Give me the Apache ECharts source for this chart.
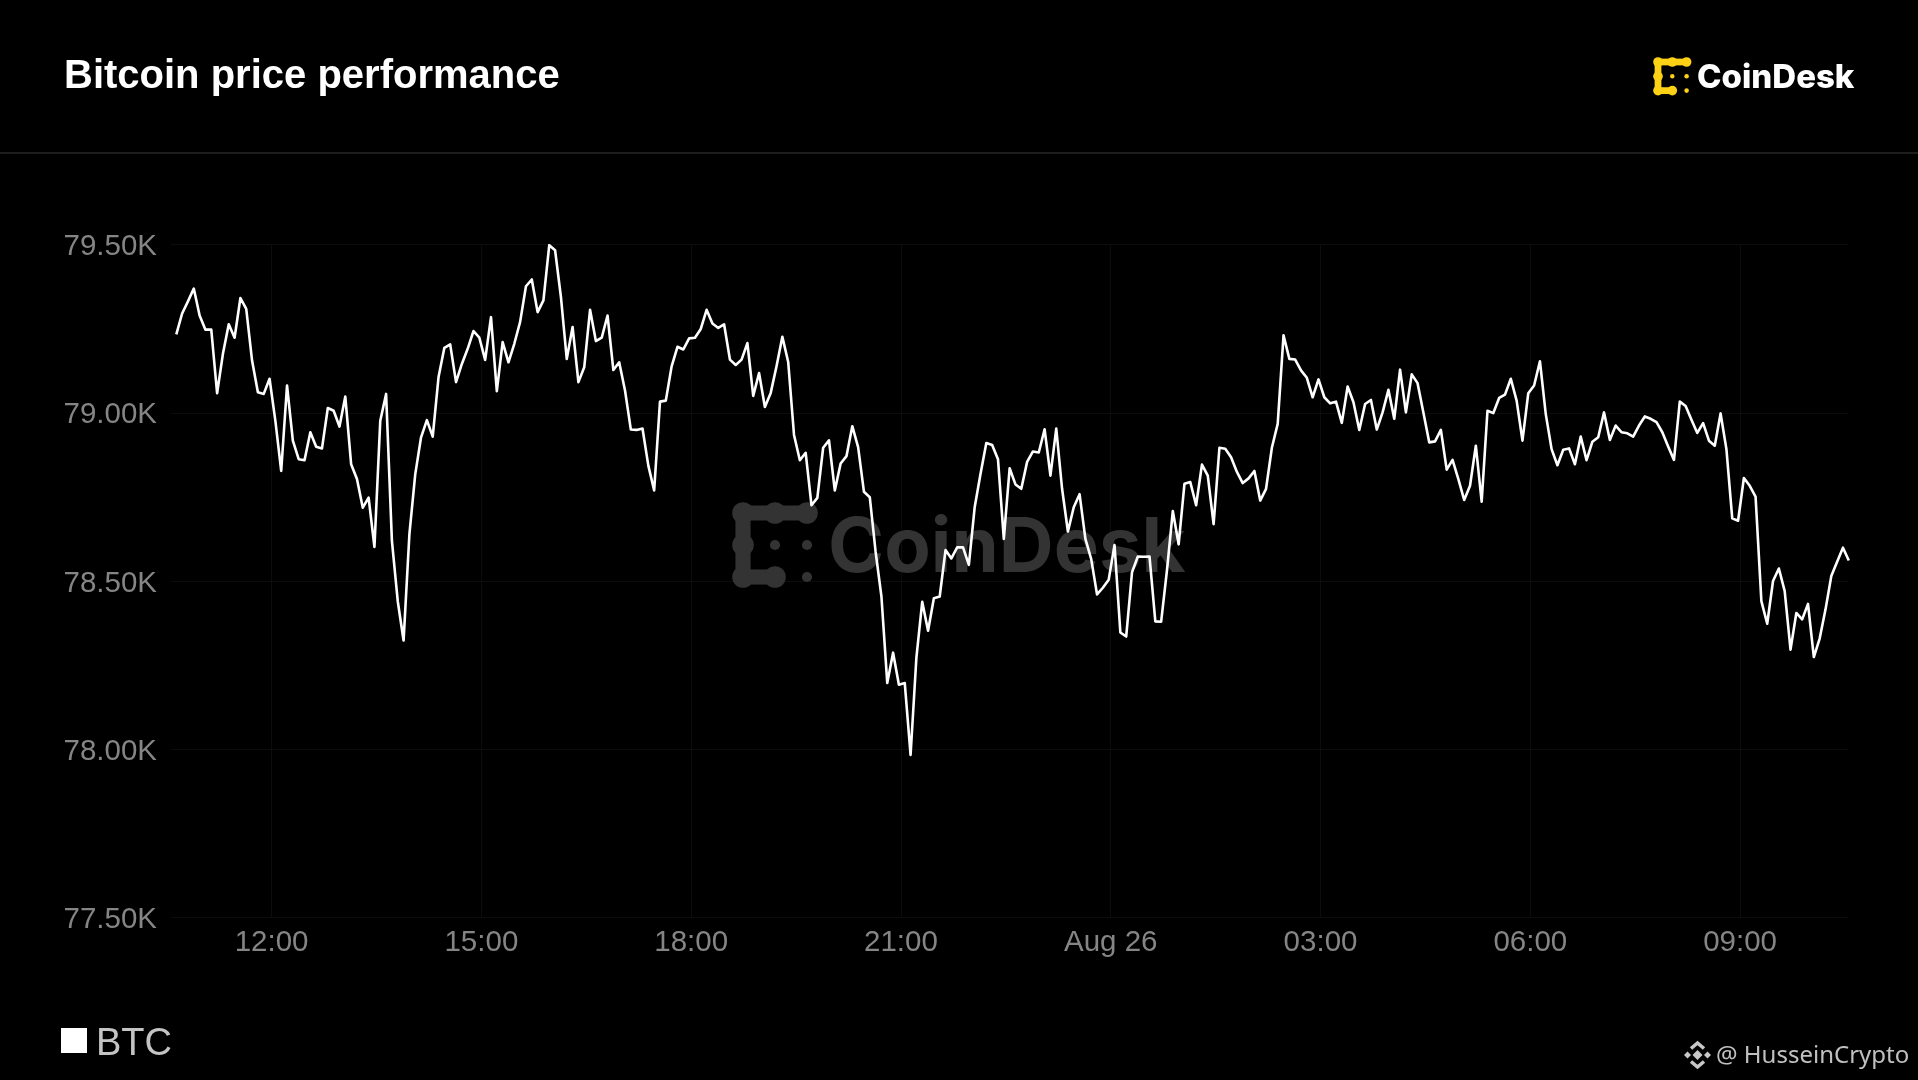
<!DOCTYPE html>
<html><head><meta charset="utf-8">
<style>html,body{margin:0;padding:0;background:#000}#c{width:1918px;height:1080px}</style>
<script src="https://cdn.jsdelivr.net/npm/echarts@6/dist/echarts.min.js"></script>
</head><body><div id="c"></div>
<script>
const startMinute = 638.25;
const stepMinutes = 5;
const seriesName = 'BTC';
const btcPrice = [
79233,79295,79331,79369,79289,79247,79247,79058,79175,79263,79223,79341,79309,79155,79061,79056,79101,78976,78827,79081,
78917,78862,78859,78942,78899,78894,79014,79006,78959,79048,78847,78803,78718,78748,78601,78976,79056,78619,78440,78323,
78639,78817,78927,78978,78929,79106,79193,79203,79091,79145,79190,79243,79223,79157,79284,79064,79210,79150,79205,79270,
79376,79396,79299,79334,79498,79483,79344,79160,79255,79091,79135,79306,79213,79223,79289,79127,79150,79066,78950,78949,
78953,78843,78769,79033,79036,79138,79196,79188,79221,79223,79249,79306,79265,79252,79263,79158,79142,79158,79207,79050,
79118,79017,79059,79138,79226,79151,78934,78859,78881,78725,78747,78896,78918,78769,78849,78871,78960,78898,78765,78749,
78587,78454,78197,78287,78192,78197,77983,78272,78438,78352,78449,78454,78592,78567,78600,78600,78548,78719,78818,78910,
78904,78862,78625,78835,78787,78774,78854,78885,78882,78951,78813,78953,78774,78647,78719,78758,78625,78565,78460,78480,
78504,78607,78347,78335,78526,78573,78572,78573,78380,78379,78532,78708,78609,78789,78794,78725,78846,78813,78669,78896,
78893,78868,78824,78791,78805,78827,78739,78774,78896,78967,79230,79160,79158,79126,79104,79046,79099,79046,79028,79033,
78970,79078,79031,78949,79026,79038,78950,79001,79068,78982,79128,79001,79114,79088,79001,78912,78915,78949,78831,78860,
78803,78741,78783,78902,78736,79006,78999,79044,79054,79101,79036,78917,79058,79081,79153,78996,78892,78844,78890,78894,
78847,78929,78859,78914,78927,79001,78919,78962,78942,78939,78929,78962,78989,78982,78972,78942,78900,78860,79033,79020,
78979,78940,78969,78917,78902,78998,78892,78686,78679,78806,78783,78751,78440,78373,78500,78537,78470,78296,78405,78386,
78432,78274,78329,78415,78515,78557,78599,78561];
const tickMinutes = [720,900,1080,1260,1440,1620,1800,1980];
const tickLabels = ['12:00','15:00','18:00','21:00','Aug 26','03:00','06:00','09:00'];
const yMin = 77500, yMax = 79500, yStep = 500;
const fontUI = '"Liberation Sans", Inter, sans-serif';
const fontLogo = 'Inter, "Liberation Sans", sans-serif';
const wmColor = '#333333';

function logo(ox, oy, k, color, z) {
  const beads = [[0,0],[1,0],[2,0],[0,1],[0,2],[1,2]];
  const links = [[[0,0],[2,0]],[[0,0],[0,2]],[[0,2],[1,2]]];
  const dots = [[1,1],[2,1],[2,2]];
  const g = 32 * k, r = 10.8 * k, out = [];
  links.forEach(l => out.push({type:'line', z, shape:{x1:ox+l[0][0]*g,y1:oy+l[0][1]*g,x2:ox+l[1][0]*g,y2:oy+l[1][1]*g}, style:{stroke:color,lineWidth:r*1.4}}));
  beads.forEach(b => out.push({type:'circle', z, shape:{cx:ox+b[0]*g,cy:oy+b[1]*g,r}, style:{fill:color}}));
  dots.forEach(d => out.push({type:'circle', z, shape:{cx:ox+d[0]*g,cy:oy+d[1]*g,r:r*0.47}, style:{fill:color}}));
  return out;
}
const bc = '#c8c8c8', bx = 1697.5, by = 1055;
const binance = [
  {type:'polygon', z:5, shape:{points:[[bx,by-5],[bx+5,by],[bx,by+5],[bx-5,by]]}, style:{fill:bc}},
  {type:'polygon', z:5, shape:{points:[[bx-13.5,by],[bx-10,by-3.5],[bx-6.5,by],[bx-10,by+3.5]]}, style:{fill:bc}},
  {type:'polygon', z:5, shape:{points:[[bx+13.5,by],[bx+10,by-3.5],[bx+6.5,by],[bx+10,by+3.5]]}, style:{fill:bc}},
  {type:'polyline', z:5, shape:{points:[[bx-6.5,by-6.5],[bx,by-12],[bx+6.5,by-6.5]]}, style:{stroke:bc,fill:null,lineWidth:3.6}},
  {type:'polyline', z:5, shape:{points:[[bx-6.5,by+6.5],[bx,by+12],[bx+6.5,by+6.5]]}, style:{stroke:bc,fill:null,lineWidth:3.6}}
];

const chart = echarts.init(document.getElementById('c'), null, {width:1918, height:1080});
chart.setOption({
  backgroundColor:'#000',
  animation:false,
  title:{text:'Bitcoin price performance', left:64, top:57, padding:0, textStyle:{color:'#fff', fontFamily:fontUI, fontWeight:700, fontSize:40}},
  legend:{data:[{name:seriesName, icon:'rect', itemStyle:{color:'#fff'}}], left:61, top:1026, padding:0, itemWidth:26, itemHeight:25, itemGap:10, formatter:'{a|{name}}',
    textStyle:{color:'#c4c4c4', fontFamily:fontUI, fontSize:38, rich:{a:{color:'#c4c4c4', fontFamily:fontUI, fontSize:38, padding:[9,0,0,4]}}}, selectedMode:false},
  grid:{left:171, right:69.5, top:244.5, bottom:162.5},
  xAxis:{type:'value', min:633.7, max:2073, axisLine:{show:false},
    axisTick:{show:false, customValues:tickMinutes},
    axisLabel:{customValues:tickMinutes, formatter:v=>tickLabels[tickMinutes.indexOf(v)], color:'#858585', fontFamily:fontUI, fontSize:29.5, margin:10},
    splitLine:{show:true, lineStyle:{color:'#0c0c0c', width:1}}},
  yAxis:{type:'value', min:yMin, max:yMax, interval:yStep, axisLine:{show:false}, axisTick:{show:false},
    axisLabel:{formatter:v=>'{a|'+(v/1000).toFixed(2)+'K}', margin:14,
      rich:{a:{color:'#858585', fontFamily:fontUI, fontSize:29.5, padding:[5,0,0,0]}}},
    splitLine:{show:true, lineStyle:{color:'#0c0c0c', width:1}}},
  series:[{name:seriesName, type:'line', z:3, symbol:'none', smooth:false, itemStyle:{color:'#fff'}, lineStyle:{color:'#fff', width:2.6, join:'round'},
    data:btcPrice.map((v,i)=>[startMinute+stepMinutes*i, v])}],
  graphic:[
    {type:'rect', z:1, shape:{x:0,y:152,width:1918,height:2}, style:{fill:'#1e1e1e'}},
    ...logo(743,513,1,wmColor,1),
    {type:'text', z:1, left:828, top:511, style:{text:'CoinDesk', fill:wmColor, font:'700 76px '+fontLogo}},
    ...logo(1658,62,0.447,'#fcd116',5),
    {type:'text', z:5, left:1697, top:62, style:{text:'CoinDesk', fill:'#fff', font:'800 33px '+fontLogo}},
    ...binance,
    {type:'text', z:5, left:1716, top:1044, style:{text:'@ HusseinCrypto', fill:'#c0c0c0', font:'400 24px "Noto Sans", sans-serif'}}
  ]
});
</script></body></html>
